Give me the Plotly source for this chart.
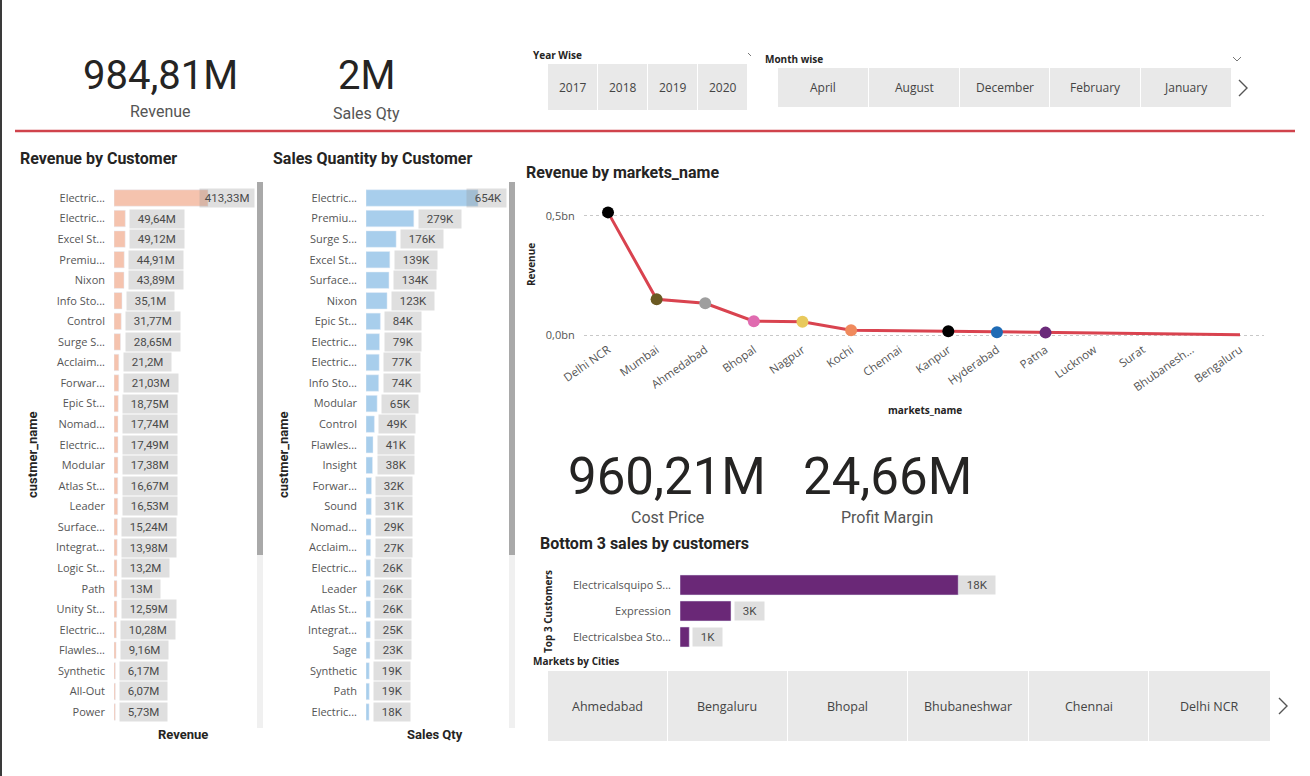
import plotly.graph_objects as go

# ---------------- data ----------------
kpi_revenue = "984,81M"
kpi_qty = "2M"
kpi_cost = "960,21M"
kpi_profit = "24,66M"

years = ["2017", "2018", "2019", "2020"]
months = ["April", "August", "December", "February", "January"]
cities = ["Ahmedabad", "Bengaluru", "Bhopal", "Bhubaneshwar", "Chennai", "Delhi NCR"]

rev_customers = ["Electric...", "Electric...", "Excel St...", "Premiu...", "Nixon", "Info Sto...",
                 "Control", "Surge S...", "Acclaim...", "Forwar...", "Epic St...", "Nomad...",
                 "Electric...", "Modular", "Atlas St...", "Leader", "Surface...", "Integrat...",
                 "Logic St...", "Path", "Unity St...", "Electric...", "Flawles...", "Synthetic",
                 "All-Out", "Power"]
rev_values_m = [413.33, 49.64, 49.12, 44.91, 43.89, 35.1, 31.77, 28.65, 21.2, 21.03, 18.75, 17.74,
                17.49, 17.38, 16.67, 16.53, 15.24, 13.98, 13.2, 13.0, 12.59, 10.28, 9.16, 6.17,
                6.07, 5.73]

qty_customers = ["Electric...", "Premiu...", "Surge S...", "Excel St...", "Surface...", "Nixon",
                 "Epic St...", "Electric...", "Electric...", "Info Sto...", "Modular", "Control",
                 "Flawles...", "Insight", "Forwar...", "Sound", "Nomad...", "Acclaim...",
                 "Electric...", "Leader", "Atlas St...", "Integrat...", "Sage", "Synthetic",
                 "Path", "Electric..."]
qty_values_k = [654, 279, 176, 139, 134, 123, 84, 79, 77, 74, 65, 49, 41, 38, 32, 31, 29, 27,
                26, 26, 26, 25, 23, 19, 19, 18]

markets = ["Delhi NCR", "Mumbai", "Ahmedabad", "Bhopal", "Nagpur", "Kochi", "Chennai", "Kanpur",
           "Hyderabad", "Patna", "Lucknow", "Surat", "Bhubanesh...", "Bengaluru"]
market_revenue_bn = [0.515, 0.150, 0.133, 0.058, 0.056, 0.020, 0.018, 0.016, 0.012, 0.010,
                     0.008, 0.006, 0.004, 0.001]
market_marker_colors = ["#000000", "#6B5A22", "#9E9E9E", "#E06BB0", "#E8C95C", "#F08A5D",
                        "rgba(0,0,0,0)", "#000000", "#1F6BB5", "#6B2A7A",
                        "rgba(0,0,0,0)", "rgba(0,0,0,0)", "rgba(0,0,0,0)", "rgba(0,0,0,0)"]

bottom_customers = ["Electricalsquipo S...", "Expression", "Electricalsbea Sto..."]
bottom_values_k = [18.0, 3.3, 0.6]
bottom_labels = ["18K", "3K", "1K"]

# ---------------- helpers ----------------
W, H = 1310, 776
def px(x):
    return x / W
def py(y):
    return 1 - y / H

TITLE_FONT = "Roboto"
TEXT_FONT = "Open Sans"
NB = "\u00a0"

fig = go.Figure()
shapes = []
ann = []

def label_m(v):
    s = f"{v:.2f}".rstrip("0").rstrip(".")
    return s.replace(".", ",") + "M"

LABEL_FONT = dict(family=TITLE_FONT, size=11.5, color="#4a4a4a")
LABEL_BG = "rgba(150,150,150,0.3)"

# ---------------- Revenue by customer bars ----------------
rev_idx = list(range(len(rev_customers)))
rev_R = 620
fig.add_trace(go.Bar(x=rev_values_m, y=rev_idx, orientation="h", marker_color="#F5C3AE",
                     width=0.8, xaxis="x", yaxis="y", hoverinfo="skip"))
for i, v in enumerate(rev_values_m):
    if v > 0.5 * rev_R:
        ann.append(dict(x=rev_R, y=i, xref="x", yref="y", xanchor="right", yanchor="middle",
                        text=NB + label_m(v) + NB, showarrow=False,
                        font=LABEL_FONT, bgcolor=LABEL_BG, borderpad=2))
    else:
        ann.append(dict(x=v, y=i, xref="x", yref="y", xanchor="left", yanchor="middle", xshift=4,
                        text=NB + NB + label_m(v) + NB + NB, showarrow=False,
                        font=LABEL_FONT, bgcolor=LABEL_BG, borderpad=2))

# ---------------- Sales qty bars ----------------
qty_idx = list(range(len(qty_customers)))
qty_R = 823
fig.add_trace(go.Bar(x=qty_values_k, y=qty_idx, orientation="h", marker_color="#A8CEEC",
                     width=0.8, xaxis="x2", yaxis="y2", hoverinfo="skip"))
for i, v in enumerate(qty_values_k):
    t = f"{v}K"
    if v > 0.5 * qty_R:
        ann.append(dict(x=qty_R, y=i, xref="x2", yref="y2", xanchor="right", yanchor="middle",
                        text=NB + NB + t + NB, showarrow=False,
                        font=LABEL_FONT, bgcolor=LABEL_BG, borderpad=2))
    else:
        ann.append(dict(x=v, y=i, xref="x2", yref="y2", xanchor="left", yanchor="middle", xshift=4,
                        text=NB + NB + t + NB + NB, showarrow=False,
                        font=LABEL_FONT, bgcolor=LABEL_BG, borderpad=2))

# ---------------- Line chart ----------------
marker_sizes = [0 if c == "rgba(0,0,0,0)" else 12 for c in market_marker_colors]
fig.add_trace(go.Scatter(x=markets, y=market_revenue_bn, mode="lines",
                         line=dict(color="#D9434F", width=3),
                         xaxis="x3", yaxis="y3", hoverinfo="skip"))
fig.add_trace(go.Scatter(x=markets, y=market_revenue_bn, mode="markers",
                         marker=dict(color=market_marker_colors, size=marker_sizes,
                                     opacity=1, line=dict(width=0)),
                         xaxis="x3", yaxis="y3", hoverinfo="skip"))

# ---------------- Bottom 3 ----------------
b_idx = list(range(len(bottom_customers)))
b_R = 20.7
fig.add_trace(go.Bar(x=bottom_values_k, y=b_idx, orientation="h", marker_color="#6A2877",
                     width=0.77, xaxis="x4", yaxis="y4", hoverinfo="skip"))
for i, v in enumerate(bottom_values_k):
    ann.append(dict(x=v, y=i, xref="x4", yref="y4", xanchor="left", yanchor="middle",
                    xshift=3 if i else 0,
                    text=NB + NB + bottom_labels[i] + NB + NB, showarrow=False,
                    font=LABEL_FONT, bgcolor=LABEL_BG, borderpad=2))

tick_font = dict(family=TEXT_FONT, size=11, color="#555555")

fig.update_layout(
    width=W, height=H, margin=dict(l=0, r=0, t=0, b=0, pad=0), autosize=False,
    paper_bgcolor="white", plot_bgcolor="white", showlegend=False,
    xaxis=dict(domain=[px(114), px(255)], range=[0, rev_R], visible=False, fixedrange=True,
               automargin=False),
    yaxis=dict(domain=[py(722.3), py(187.7)], range=[25.5, -0.5], tickvals=rev_idx,
               ticktext=rev_customers, tickfont=tick_font, showgrid=False, zeroline=False,
               ticks="", ticklabelstandoff=8, fixedrange=True, automargin=False),
    xaxis2=dict(domain=[px(366), px(507)], range=[0, qty_R], visible=False, fixedrange=True,
                anchor="y2", automargin=False),
    yaxis2=dict(domain=[py(722.3), py(187.7)], range=[25.5, -0.5], tickvals=qty_idx,
                ticktext=qty_customers, tickfont=tick_font, showgrid=False, zeroline=False,
                ticks="", ticklabelstandoff=8, anchor="x2", fixedrange=True, automargin=False),
    xaxis3=dict(domain=[px(583.7), px(1264.3)], anchor="y3", tickangle=-35,
                range=[-0.5, len(markets) - 0.5],
                tickfont=dict(family=TEXT_FONT, size=11.5, color="#555555"),
                showgrid=False, zeroline=False, showline=False, ticks="",
                fixedrange=True, automargin=False),
    yaxis3=dict(domain=[py(340), py(200)], anchor="x3", range=[-0.021, 0.567],
                tickvals=[0, 0.5], ticktext=["0,0bn", "0,5bn"], tickfont=tick_font,
                showgrid=True, gridcolor="#C8C8C8", griddash="dot", gridwidth=1,
                zeroline=False, ticks="", ticklabelstandoff=8, fixedrange=True, automargin=False),
    xaxis4=dict(domain=[px(680), px(1000)], range=[0, b_R], visible=False, anchor="y4",
                fixedrange=True, automargin=False),
    yaxis4=dict(domain=[py(650), py(572)], range=[2.5, -0.5], tickvals=b_idx,
                ticktext=bottom_customers, tickfont=tick_font, showgrid=False, zeroline=False,
                ticks="", ticklabelstandoff=8, anchor="x4", fixedrange=True, automargin=False),
)

# ---------------- frame / decorations ----------------
shapes.append(dict(type="line", xref="paper", yref="paper", x0=px(1), x1=px(1), y0=0, y1=1,
                   line=dict(color="#3a3a3a", width=2)))
shapes.append(dict(type="line", xref="paper", yref="paper", x0=px(15), x1=px(1295),
                   y0=py(131), y1=py(131), line=dict(color="#D0434C", width=2.5)))

# scrollbars
for x0 in (257, 509):
    shapes.append(dict(type="rect", xref="paper", yref="paper", x0=px(x0), x1=px(x0 + 6),
                       y0=py(728), y1=py(182), fillcolor="#F0F0F0", line=dict(width=0), layer="below"))
    shapes.append(dict(type="rect", xref="paper", yref="paper", x0=px(x0), x1=px(x0 + 6),
                       y0=py(555), y1=py(182), fillcolor="#A9A9A9", line=dict(width=0)))

# slicer buttons
def buttons(labels, x_edges, y0, y1, size):
    for i, lab in enumerate(labels):
        shapes.append(dict(type="rect", xref="paper", yref="paper",
                           x0=px(x_edges[i]), x1=px(x_edges[i + 1] - 1),
                           y0=py(y1), y1=py(y0), fillcolor="#E9E9E9", line=dict(width=0)))
        ann.append(dict(x=px((x_edges[i] + x_edges[i + 1] - 1) / 2), y=py((y0 + y1) / 2),
                        xref="paper", yref="paper", text=lab, showarrow=False,
                        xanchor="center", yanchor="middle",
                        font=dict(family=TEXT_FONT, size=size, color="#444444")))

year_edges = [548 + 50 * i for i in range(len(years) + 1)]
buttons(years, year_edges, 64, 110, 12)
month_edges = [778, 869, 960, 1050, 1141, 1232]
buttons(months, month_edges, 68, 107, 12)
city_edges = [548, 668, 788, 908, 1029, 1149, 1271]
buttons(cities, city_edges, 671, 741, 12.5)

def chevron_right(cx, cy, h):
    shapes.append(dict(type="path", xref="paper", yref="paper",
                       path=f"M {px(cx - h/2)} {py(cy - h)} L {px(cx + h/2)} {py(cy)} L {px(cx - h/2)} {py(cy + h)}",
                       line=dict(color="#555555", width=1.4)))

chevron_right(1243, 88, 8)
chevron_right(1283, 706, 8)
shapes.append(dict(type="path", xref="paper", yref="paper",
                   path=f"M {px(1233)} {py(57)} L {px(1237)} {py(61)} L {px(1241)} {py(57)}",
                   line=dict(color="#777777", width=1)))
shapes.append(dict(type="path", xref="paper", yref="paper",
                   path=f"M {px(748)} {py(53)} L {px(751)} {py(56)}",
                   line=dict(color="#777777", width=1)))

# ---------------- texts ----------------
def text(x, y, s, size, color="#252423", family=TITLE_FONT, xanchor="left", bold=False, angle=0):
    ann.append(dict(x=px(x), y=py(y), xref="paper", yref="paper",
                    text=f"<b>{s}</b>" if bold else s, showarrow=False,
                    xanchor=xanchor, yanchor="middle", textangle=angle,
                    font=dict(family=family, size=size, color=color)))

# KPIs
text(160, 76, kpi_revenue, 40, xanchor="center")
text(160, 112, "Revenue", 16, color="#555555", xanchor="center")
text(366, 76, kpi_qty, 40, xanchor="center")
text(366, 113, "Sales Qty", 16, color="#555555", xanchor="center")
text(667, 476, kpi_cost, 51, xanchor="center")
text(667, 517, "Cost Price", 16, color="#555555", xanchor="center")
text(887, 476, kpi_profit, 51, xanchor="center")
text(887, 517, "Profit Margin", 16, color="#555555", xanchor="center")

# slicer titles
text(531, 55, "Year Wise", 10, bold=True, family=TEXT_FONT)
text(763, 59, "Month wise", 10, bold=True, family=TEXT_FONT)
text(531, 661, "Markets by Cities", 10, bold=True, family=TEXT_FONT)

# chart titles
text(18, 159, "Revenue by Customer", 16, bold=True)
text(271, 159, "Sales Quantity by Customer", 16, bold=True)
text(524, 172, "Revenue by markets_name", 16, bold=True)
text(538, 543, "Bottom 3 sales by customers", 16, bold=True)

# axis titles
text(32, 455, "custmer_name", 13, bold=True, xanchor="center", angle=-90)
text(183, 734, "Revenue", 13, bold=True, xanchor="center")
text(283, 455, "custmer_name", 13, bold=True, xanchor="center", angle=-90)
text(435, 734, "Sales Qty", 13, bold=True, xanchor="center")
text(531, 265, "Revenue", 10, bold=True, family=TEXT_FONT, xanchor="center", angle=-90)
text(925, 410, "markets_name", 10, bold=True, family=TEXT_FONT, xanchor="center")
text(548, 612, "Top 3 Customers", 10, bold=True, family=TEXT_FONT, xanchor="center", angle=-90)

fig.update_layout(shapes=shapes, annotations=ann)
fig.write_html("out.html", config={"displayModeBar": False},
               post_script="document.body.style.margin='0';document.body.style.overflow='hidden';")
